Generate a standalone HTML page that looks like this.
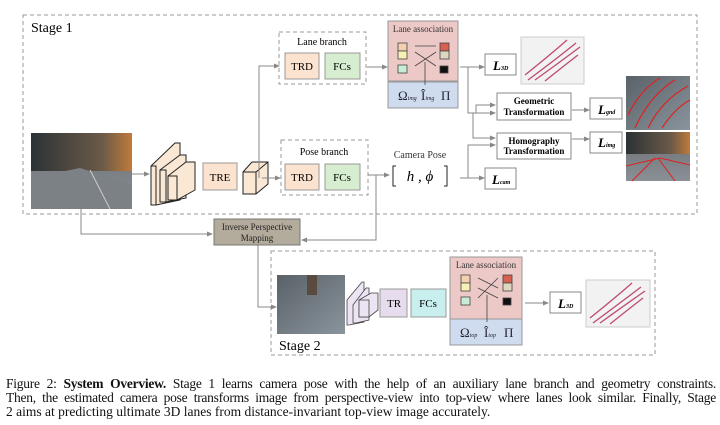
<!DOCTYPE html>
<html><head><meta charset="utf-8"><style>
body{margin:0;background:#fff;width:720px;height:425px;overflow:hidden;position:relative;font-family:"Liberation Serif",serif}
.cap{position:absolute;left:6px;width:710px;font-size:13.5px;line-height:14px;color:#111;white-space:nowrap}
.j{text-align:justify;text-align-last:justify;letter-spacing:-0.25px;word-spacing:-1px}
</style></head><body>
<svg width="720" height="425" style="position:absolute;left:0;top:0" font-family="Liberation Serif, serif">
<defs>
<marker id="a" markerWidth="6" markerHeight="6" refX="5" refY="3" orient="auto"><path d="M0,0.5L6,3L0,5.5z" fill="#888"/></marker>
<linearGradient id="sky" x1="0" y1="0" x2="1" y2="0"><stop offset="0" stop-color="#2c3236"/><stop offset="0.7" stop-color="#6a5a48"/><stop offset="1" stop-color="#c07a3a"/></linearGradient>
<linearGradient id="road" x1="0" y1="0" x2="0" y2="1"><stop offset="0" stop-color="#6a6e72"/><stop offset="1" stop-color="#8a9096"/></linearGradient>
<linearGradient id="top" x1="0" y1="0" x2="1" y2="1"><stop offset="0" stop-color="#5a6268"/><stop offset="1" stop-color="#8a949c"/></linearGradient>
</defs>
<g fill="none" stroke="#999" stroke-dasharray="4,3" stroke-width="1">
<rect x="23" y="15" width="674" height="199"/>
<rect x="279" y="32" width="87" height="52"/>
<rect x="281" y="140" width="87" height="55"/>
<rect x="271" y="251" width="384" height="104"/>
</g>
<text x="31" y="32" font-size="14">Stage 1</text>
<text x="322" y="45" font-size="10" text-anchor="middle">Lane branch</text>
<text x="324" y="155" font-size="10" text-anchor="middle">Pose branch</text>
<rect x="31" y="133" width="101" height="76" fill="url(#road)"/>
<rect x="31" y="133" width="101" height="38" fill="url(#sky)"/>
<polygon points="31,178 80,168 132,185 132,209 31,209" fill="#7c8186"/>
<line x1="90" y1="170" x2="110" y2="209" stroke="#ccc"/>
<g stroke="#222" fill="#fbe8d4" stroke-width="1">
<polygon points="151,166 175,143 180,143 180,200 156,205 151,205"/>
<polygon points="160,170 180,155 186,155 186,198 166,202 160,202"/>
<polygon points="168,176 186,162 195,162 195,190 177,200 168,200"/>
<rect x="168" y="176" width="9" height="24"/>
<rect x="160" y="170" width="6" height="32"/>
<rect x="151" y="166" width="5" height="39"/>
</g>
<rect x="203" y="163" width="34" height="27" fill="#fbe3cf" stroke="#999"/>
<text x="220" y="181" font-size="11" text-anchor="middle">TRE</text>
<g stroke="#222" fill="#fbe8d4"><polygon points="243,172 252,162 268,162 268,184 256,194 243,194"/><line x1="256" y1="172" x2="256" y2="194"/><line x1="243" y1="172" x2="256" y2="172"/><line x1="256" y1="172" x2="268" y2="162"/></g>
<g stroke="#999"><rect x="285" y="53" width="34" height="26" fill="#fbe3cf"/><rect x="325" y="53" width="35" height="26" fill="#d6edd0"/>
<rect x="285" y="164" width="34" height="26" fill="#fbe3cf"/><rect x="325" y="164" width="35" height="26" fill="#d6edd0"/></g>
<g font-size="11" text-anchor="middle"><text x="302" y="70">TRD</text><text x="342" y="70">FCs</text><text x="302" y="181">TRD</text><text x="342" y="181">FCs</text></g>
<g stroke="#888" fill="none" marker-end="url(#a)">
<line x1="132" y1="174" x2="149" y2="174"/>
<polyline points="259,178 259,66 279,66"/>
<line x1="262" y1="178" x2="280" y2="178"/>
<line x1="367" y1="67" x2="387" y2="67"/>
<line x1="368" y1="175" x2="389" y2="175"/>
<polyline points="376,175 376,240 302,240"/>
<polyline points="81,209 81,234 212,234"/>
<polyline points="258,245 258,307 276,307"/>
<line x1="460" y1="67" x2="484" y2="67"/>
<polyline points="468,67 468,113 495,113"/>
<polyline points="473,113 473,138 495,138"/>
<polyline points="476,113 476,105 495,105"/>
<line x1="460" y1="178" x2="484" y2="178"/>
<polyline points="468,178 468,145 495,145"/>
<line x1="572" y1="110" x2="589" y2="110"/>
<line x1="572" y1="139" x2="589" y2="139"/>
<line x1="525" y1="303" x2="548" y2="303"/>
</g>
<g stroke="#999"><rect x="388" y="21" width="70" height="60" fill="#ecc8c6"/><rect x="388" y="82" width="70" height="26" fill="#cfdcef"/></g>
<text x="423" y="32" font-size="9" text-anchor="middle" fill="#333">Lane association</text>
<g stroke="#444" stroke-width="0.8">
<rect x="398" y="43" width="9" height="8" fill="#f3d1b0"/><rect x="398" y="51" width="9" height="8" fill="#f4f0b6"/><rect x="398" y="65" width="9" height="8" fill="#c9ecd8"/>
<rect x="440" y="43" width="9" height="8" fill="#d86050"/><rect x="440" y="51" width="9" height="8" fill="#ddd6c0"/><rect x="440" y="66" width="8" height="7" fill="#111"/>
<line x1="415" y1="46" x2="436" y2="46"/><line x1="415" y1="66" x2="436" y2="52"/><line x1="415" y1="52" x2="436" y2="66"/><line x1="425" y1="62" x2="425" y2="85"/></g>
<g font-size="13" fill="#223"><text x="398" y="100">Ω<tspan font-size="6" font-style="italic">img</tspan></text><text x="421" y="100">Î<tspan font-size="6" font-style="italic">img</tspan></text><text x="441" y="100">Π</text></g>
<g stroke="#888" fill="#fff"><rect x="485" y="54" width="31" height="21"/><rect x="497" y="93" width="74" height="27"/><rect x="590" y="98" width="32" height="21"/><rect x="497" y="133" width="74" height="26"/><rect x="590" y="132" width="32" height="21"/><rect x="485" y="168" width="31" height="21"/></g>
<g font-size="13" font-weight="bold" font-style="italic"><text x="493" y="70">L<tspan font-size="6">3D</tspan></text><text x="598" y="114">L<tspan font-size="6">gnd</tspan></text><text x="598" y="147">L<tspan font-size="6">img</tspan></text><text x="492" y="184">L<tspan font-size="6">cam</tspan></text></g>
<g font-size="9" font-weight="bold" text-anchor="middle"><text x="534" y="104">Geometric</text><text x="534" y="115">Transformation</text><text x="534" y="144">Homography</text><text x="534" y="154">Transformation</text></g>
<text x="420" y="158" font-size="10" text-anchor="middle" fill="#333">Camera Pose</text>
<text x="420" y="181" font-size="15" text-anchor="middle" font-style="italic">h , ϕ</text>
<g stroke="#222" fill="none"><polyline points="396,166 393,166 393,186 396,186"/><polyline points="444,166 447,166 447,186 444,186"/></g>
<g><rect x="521" y="37" width="63" height="47" fill="#f2f2f2" stroke="#ccc"/>
<g stroke="#c04a70" stroke-width="1.3" fill="none"><path d="M525,75 Q550,55 567,40"/><path d="M528,80 Q555,60 576,43"/><path d="M535,80 Q560,62 580,47"/><path d="M545,81 Q565,65 578,55"/></g>
<rect x="586" y="280" width="64" height="47" fill="#f2f2f2" stroke="#ccc"/>
<g stroke="#c04a70" stroke-width="1.3" fill="none"><path d="M590,318 Q615,298 632,283"/><path d="M593,323 Q620,303 641,287"/><path d="M600,323 Q625,305 645,291"/><path d="M610,324 Q630,308 643,298"/></g></g>
<rect x="626" y="76" width="64" height="54" fill="url(#top)"/>
<g stroke="#e02020" stroke-width="1.2" fill="none"><path d="M635,128 Q650,95 675,80"/><path d="M648,128 Q662,100 688,86"/><path d="M662,128 Q675,108 690,100"/><path d="M628,115 Q640,90 660,78"/></g>
<rect x="626" y="132" width="64" height="49" fill="url(#road)"/><rect x="626" y="132" width="64" height="22" fill="url(#sky)"/>
<g stroke="#e02020" fill="none"><path d="M655,158 L632,181"/><path d="M658,158 L675,181"/><path d="M626,166 L660,158 L690,165"/></g>
<rect x="214" y="219" width="86" height="26" fill="#b3ab9b" stroke="#777"/>
<g font-size="9" text-anchor="middle" fill="#222"><text x="257" y="230">Inverse Perspective</text><text x="257" y="241">Mapping</text></g>
<rect x="277" y="275" width="68" height="59" fill="url(#top)"/>
<rect x="307" y="275" width="10" height="20" fill="#5a4a40"/>
<text x="279" y="350" font-size="14">Stage 2</text>
<g stroke="#444" fill="#ece4f2" stroke-width="0.8">
<polygon points="347,300 362,282 364,282 364,322 349,325 347,325"/>
<polygon points="353,305 366,288 369,288 369,320 356,323 353,323"/>
<polygon points="359,300 371,293 378,293 378,310 369,317 359,317"/>
<rect x="359" y="300" width="10" height="17"/></g>
<rect x="380" y="289" width="27" height="28" fill="#e6dced" stroke="#999"/><text x="394" y="307" font-size="11" text-anchor="middle">TR</text>
<rect x="411" y="289" width="35" height="28" fill="#c8eeee" stroke="#999"/><text x="428" y="307" font-size="11" text-anchor="middle">FCs</text>
<g stroke="#999"><rect x="450" y="257" width="72" height="62" fill="#ecc8c6"/><rect x="450" y="319" width="72" height="26" fill="#cfdcef"/></g>
<text x="486" y="268" font-size="9" text-anchor="middle" fill="#333">Lane association</text>
<g stroke="#444" stroke-width="0.8">
<rect x="461" y="275" width="9" height="8" fill="#f3d1b0"/><rect x="461" y="283" width="9" height="8" fill="#f4f0b6"/><rect x="461" y="297" width="9" height="8" fill="#c9ecd8"/>
<rect x="503" y="275" width="9" height="8" fill="#d86050"/><rect x="503" y="283" width="9" height="8" fill="#ddd6c0"/><rect x="503" y="298" width="8" height="7" fill="#111"/>
<line x1="478" y1="278" x2="498" y2="288"/><line x1="478" y1="298" x2="498" y2="278"/><line x1="478" y1="288" x2="498" y2="298"/><line x1="487" y1="295" x2="487" y2="322"/></g>
<g font-size="13" fill="#223"><text x="460" y="337">Ω<tspan font-size="6" font-style="italic">top</tspan></text><text x="484" y="337">Î<tspan font-size="6" font-style="italic">top</tspan></text><text x="504" y="337">Π</text></g>
<rect x="550" y="292" width="31" height="21" fill="#fff" stroke="#888"/>
<text x="558" y="308" font-size="13" font-weight="bold" font-style="italic">L<tspan font-size="6">3D</tspan></text>
</svg>
<div class="cap j" style="top:377px">Figure 2: <b>System Overview.</b> Stage 1 learns camera pose with the help of an auxiliary lane branch and geometry constraints.</div>
<div class="cap j" style="top:391px">Then, the estimated camera pose transforms image from perspective-view into top-view where lanes look similar. Finally, Stage</div>
<div class="cap" style="top:405px">2 aims at predicting ultimate 3D lanes from distance-invariant top-view image accurately.</div>
</body></html>
